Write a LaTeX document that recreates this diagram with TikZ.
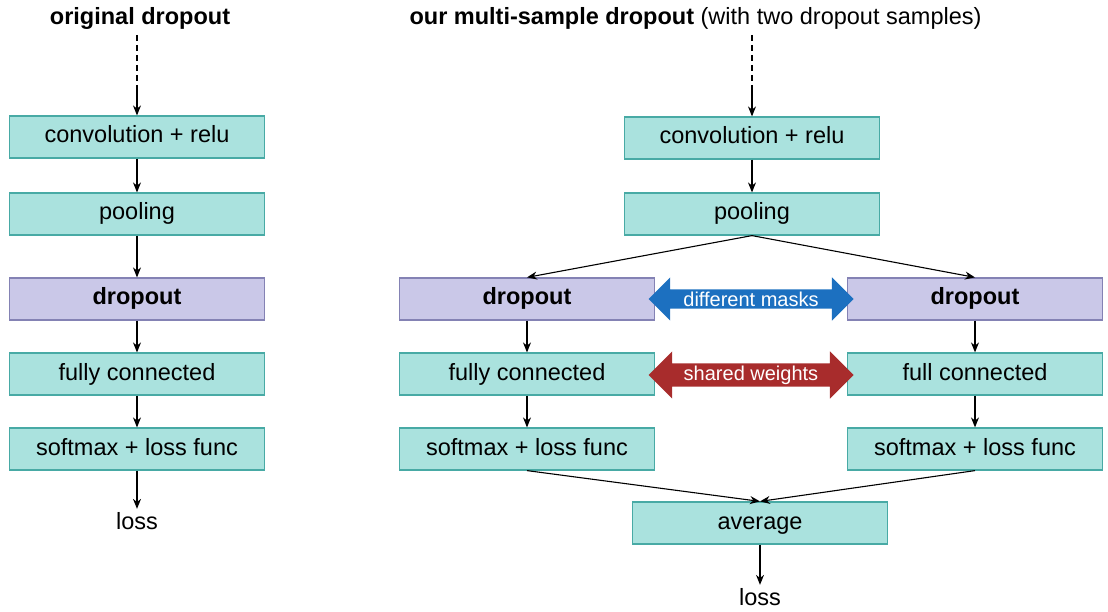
\documentclass[tikz,border=0pt]{standalone}
\usepackage{fontspec}
\setmainfont{Liberation Sans}
\usetikzlibrary{shapes.arrows,arrows.meta}
\definecolor{tealfill}{RGB}{170,226,222}
\definecolor{tealdraw}{RGB}{72,170,165}
\definecolor{lavfill}{RGB}{202,200,232}
\definecolor{lavdraw}{RGB}{132,130,180}
\definecolor{maskblue}{RGB}{28,112,192}
\definecolor{wred}{RGB}{168,44,44}
\begin{document}
\begin{tikzpicture}[x=1pt,y=-1pt,
  box/.style={draw=tealdraw,fill=tealfill,line width=1.2pt,minimum width=255pt,minimum height=42pt,inner sep=0pt,text height=17pt,text depth=5pt,font=\fontsize{23.5}{27}\selectfont},
  drop/.style={box,draw=lavdraw,fill=lavfill,font=\fontsize{23.5}{27}\selectfont\bfseries},
  arr/.style={-{Stealth[length=10pt,width=8pt]},line width=1.1pt},
  dsh/.style={line width=1.1pt,dash pattern=on 6pt off 4pt},
  dbl/.style={double arrow,double arrow head extend=12pt,minimum height=205pt,minimum width=40pt,inner sep=2pt,text=white,font=\fontsize{20}{24}\selectfont},
  lab/.style={font=\fontsize{23.5}{27}\selectfont}]
\useasboundingbox (0,0) rectangle (1108,612);
% left column
\node[lab,font=\fontsize{23.5}{27}\selectfont\bfseries] (t1) at (140,18) {original dropout};
\coordinate (s1) at (137,35);
\coordinate (m1) at (137,88);
\node[box] (c1) at (137,137) {convolution + relu};
\node[box] (p1) at (137,214) {pooling};
\node[drop] (d1) at (137,299) {dropout};
\node[box] (f1) at (137,374) {fully connected};
\node[box] (x1) at (137,449) {softmax + loss func};
\node[lab] (l1) at (137,521) {loss};
\draw[dsh] (s1) -- (m1);
\draw[arr] (m1) -- (c1);
\draw[arr] (c1) -- (p1);
\draw[arr] (p1) -- (d1);
\draw[arr] (d1) -- (f1);
\draw[arr] (f1) -- (x1);
\draw[arr] (x1) -- (l1);
% right column
\node[lab,anchor=west] (t2) at (406,18) {\textbf{our multi-sample dropout} (with two dropout samples)};
\coordinate (s2) at (752,35);
\coordinate (m2) at (752,88);
\node[box] (c2) at (752,138) {convolution + relu};
\node[box] (p2) at (752,214) {pooling};
\node[drop] (da) at (527,299) {dropout};
\node[drop] (db) at (975,299) {dropout};
\node[box] (fa) at (527,374) {fully connected};
\node[box] (fb) at (975,374) {full connected};
\node[box] (xa) at (527,449) {softmax + loss func};
\node[box] (xb) at (975,449) {softmax + loss func};
\node[box] (av) at (760,523) {average};
\node[lab] (l2) at (760,597) {loss};
\draw[dsh] (s2) -- (m2);
\draw[arr] (m2) -- (c2);
\draw[arr] (c2) -- (p2);
\draw[arr] (p2.south) -- (da.north);
\draw[arr] (p2.south) -- (db.north);
\draw[arr] (da) -- (fa);
\draw[arr] (db) -- (fb);
\draw[arr] (fa) -- (xa);
\draw[arr] (fb) -- (xb);
\draw[arr] (xa.south) -- (av.north);
\draw[arr] (xb.south) -- (av.north);
\draw[arr] (av) -- (l2);
\node[dbl,fill=maskblue] (mk) at (751,299) {different masks};
\node[dbl,fill=wred] (sw) at (751,375) {shared weights};
\end{tikzpicture}
\end{document}
